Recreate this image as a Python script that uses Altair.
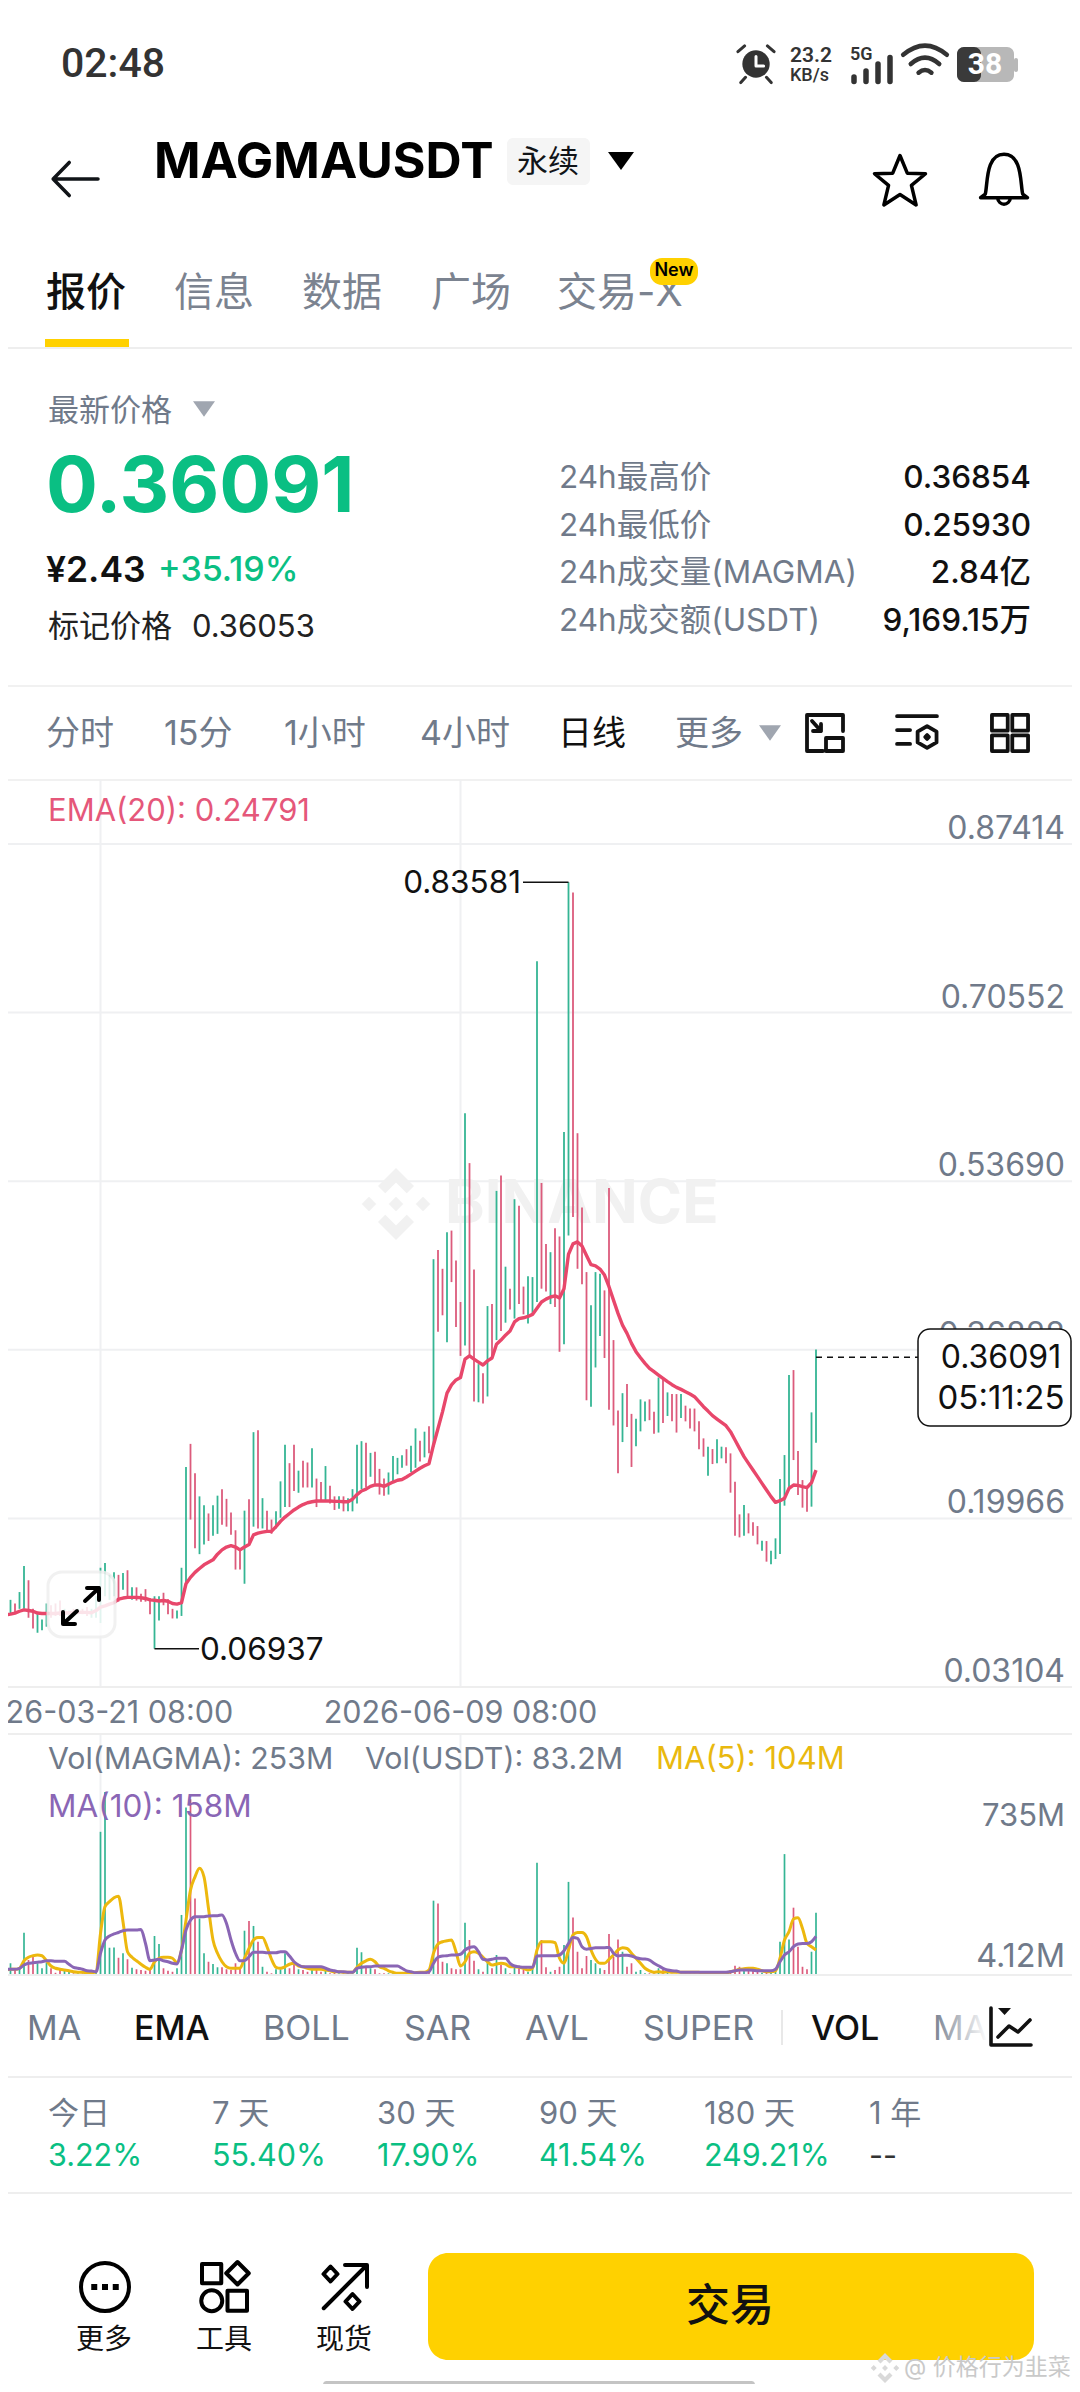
import altair as alt
import pandas as pd

# ---------- data ----------
highs = [
 .1057,.1092,.1182,.1146,.1260,.1521,.1378,.1092,.1039,.0985,
 .1146,.1128,.1146,.1175,.1092,.1075,.1092,.1092,.1092,.1110,
 .1092,.1218,.1503,.1550,.1432,.1457,.1432,.1450,.1478,.1307,
 .1307,.1242,.1289,.1200,.1218,.1218,.1253,.1189,.1092,.1075,
 .1503,.2510,.2742,.2449,.2217,.2128,.2046,.2128,.2224,.2289,
 .2192,.2056,.1878,.1682,.2074,.2189,.2859,.2877,.2199,.2074,
 .1985,.2067,.2367,.2734,.2549,.2734,.2474,.2574,.2556,.2699,
 .2395,.2360,.2520,.2324,.2217,.2217,.2217,.2199,.2289,.2734,
 .2769,.2752,.2652,.2663,.2492,.2395,.2456,.2620,.2602,.2627,
 .2689,.2723,.2897,.2772,.2864,.2918,.4589,.4680,.4493,.4858,
 .4875,.4576,.4161,.6048,.5550,.4485,.3539,.3448,.4120,.4141,
 .5272,.5426,.4514,.4294,.5189,.5123,.4315,.4418,.4410,.7569,
 .5351,.4742,.4659,.4899,.4816,.5861,.83581,.8257,.5849,.5107,
 .4460,.4128,.4460,.4443,.4277,.5301,.3780,.3075,.3249,.3340,
 .3042,.2992,.3187,.3166,.3187,.3062,.3406,.3394,.3257,.3240,
 .3240,.3240,.3124,.3095,.3095,.2967,.2797,.2714,.2690,.2787,
 .2714,.2707,.2647,.2364,.2037,.2130,.2047,.1957,.1920,.1774,
 .1770,.1674,.1797,.2390,.2630,.3430,.3480,.2670,.2380,.2314,
 .3057,.3687]
lows = [
 .0950,.0943,.1039,.1057,.1092,.1092,.1003,.0896,.0853,.0878,
 .0914,.1003,.1021,.1021,.1003,.0968,.1039,.1039,.1039,.1021,
 .1003,.1003,.0950,.1218,.1182,.1218,.1164,.1282,.1200,.1182,
 .1175,.1164,.1164,.1039,.06937,.0975,.1128,.1039,.0996,.0996,
 .1021,.1343,.1985,.1699,.1639,.1735,.1771,.1824,.1842,.1932,
 .1914,.1832,.1485,.1485,.1343,.1753,.1914,.1896,.1896,.1878,
 .1842,.1896,.2003,.2110,.2110,.2271,.2253,.2306,.2306,.2306,
 .2110,.2163,.2181,.2146,.2081,.2092,.2067,.2067,.2067,.2146,
 .2289,.2306,.2413,.2342,.2235,.2224,.2235,.2360,.2438,.2503,
 .2524,.2461,.2503,.2565,.2607,.2648,.2710,.3863,.4028,.3759,
 .4360,.3912,.3622,.3726,.3622,.3166,.3158,.3145,.3216,.3601,
 .3780,.3871,.3954,.4087,.3995,.4140,.4037,.3946,.4037,.4161,
 .4294,.4265,.4140,.4111,.3663,.3738,.4825,.5011,.4493,.4339,
 .3178,.3112,.3506,.3821,.3601,.3083,.2926,.2449,.2760,.2910,
 .2511,.2718,.2867,.2967,.2979,.2843,.2855,.2950,.3021,.2967,
 .2855,.3000,.2967,.2896,.2867,.2689,.2614,.2424,.2540,.2547,
 .2597,.2547,.2254,.1824,.1807,.1824,.1847,.1824,.1737,.1674,
 .1564,.1537,.1590,.1640,.2124,.2297,.2580,.2230,.2104,.2064,
 .2114,.2754]
direction = list(
 "RGGRGGRRGG" "GRRRGGRGRR" "GGGGGGRGRG" "RRRRGGRRRG" "GGRRGGRGGR"
 "RRRRGRGRGR" "RGGGRRGRRG" "RRGRRGRGGG" "GRGRRRGGGG" "RGGRGRGRRG"
 "RRRGRRGRGR" "GRGRGRRGGG" "RRGRRGGRRR" "RGGGRRRRGR" "RGGGRRGRGR"
 "RGRRRRRGRG" "GRRRRGRRRG" "RGGGGGRRRR" "GG")
ema20 = [
 .1032,.1032,.1039,.1050,.1068,.1082,.1075,.1068,.1050,.1046,
 .1046,.1046,.1046,.1050,.1053,.1050,.1057,.1060,.1057,.1057,
 .1053,.1075,.1110,.1121,.1139,.1153,.1189,.1200,.1207,.1207,
 .1207,.1203,.1196,.1182,.1178,.1171,.1175,.1168,.1146,.1139,
 .1153,.1343,.1407,.1457,.1496,.1532,.1557,.1582,.1639,.1682,
 .1710,.1724,.1710,.1682,.1710,.1735,.1832,.1849,.1860,.1867,
 .1867,.1914,.1967,.2010,.2046,.2081,.2110,.2135,.2153,.2163,
 .2171,.2171,.2171,.2171,.2167,.2167,.2163,.2163,.2189,.2235,
 .2271,.2289,.2317,.2331,.2331,.2317,.2338,.2360,.2378,.2386,
 .2411,.2440,.2469,.2498,.2523,.2544,.2731,.2896,.3062,.3249,
 .3332,.3382,.3406,.3589,.3622,.3589,.3560,.3531,.3572,.3601,
 .3738,.3780,.3829,.3871,.3962,.3995,.4003,.4016,.4037,.4099,
 .4161,.4190,.4211,.4223,.4202,.4294,.4638,.4742,.4762,.4721,
 .4625,.4534,.4522,.4490,.4430,.4314,.4180,.4047,.3930,.3847,
 .3747,.3664,.3604,.3547,.3497,.3464,.3430,.3397,.3364,.3334,
 .3307,.3287,.3264,.3240,.3214,.3164,.3114,.3070,.3024,.2990,
 .2957,.2924,.2864,.2780,.2697,.2614,.2547,.2480,.2414,.2347,
 .2280,.2214,.2157,.2174,.2197,.2297,.2330,.2327,.2314,.2304,
 .2354,.2479]
volume_m = [
 17,21,51,24,31,173,64,77,51,31,
 53,31,13,27,27,21,11,11,11,13,
 11,17,576,735,113,114,73,91,67,33,
 27,24,21,24,160,128,31,21,17,31,
 244,673,706,310,230,91,57,48,35,35,
 27,24,51,31,181,220,200,137,37,17,
 11,27,27,91,31,51,27,24,17,27,
 24,17,27,11,13,11,11,13,17,113,
 95,35,31,27,11,11,11,11,11,11,
 11,13,13,15,15,17,301,290,57,51,
 31,27,27,213,144,61,27,17,55,31,
 84,44,31,11,37,31,27,17,37,452,
 144,35,17,24,37,124,376,234,97,31,
 80,64,51,31,24,168,77,146,97,37,
 51,17,24,11,11,11,31,27,13,9,
 9,9,9,9,9,9,9,9,9,9,
 9,9,24,41,37,31,24,21,17,13,
 17,17,24,137,487,146,273,117,37,27,
 97,253]
ma5_m = [
 24,24,27,27,31,61,75,81,84,81,
 61,40,31,27,24,21,17,15,15,13,
 13,17,170,277,297,313,319,217,97,75,
 61,47,35,27,57,71,75,75,71,53,
 104,223,343,396,430,396,270,144,91,57,
 37,31,31,31,71,110,144,154,154,117,
 67,35,31,37,47,51,40,37,31,27,
 27,27,24,21,17,17,15,15,15,35,
 51,61,67,57,37,31,21,15,11,11,
 11,11,13,15,15,24,91,128,137,141,
 144,97,40,57,91,97,91,75,57,44,
 48,51,48,37,37,35,31,24,31,104,
 137,137,137,133,71,51,104,164,174,174,
 157,104,67,51,51,67,84,104,113,110,
 91,71,51,31,21,15,17,15,17,15,
 15,15,15,15,15,15,11,11,11,11,
 11,11,17,21,27,29,31,31,27,21,
 17,17,21,71,144,177,228,233,190,130,
 117,104]
ma10_m = [
 27,27,27,27,31,44,51,53,55,57,
 61,61,59,59,59,47,35,31,27,21,
 20,17,91,144,160,168,174,181,184,184,
 184,186,130,61,64,67,61,57,51,48,
 104,184,223,237,237,237,240,241,241,244,
 210,144,91,61,61,77,95,95,95,93,
 93,93,97,97,80,57,44,37,37,37,
 37,37,31,24,21,17,17,15,15,31,
 35,37,37,40,40,40,40,40,40,31,
 21,17,13,13,13,17,51,75,80,81,
 84,84,87,104,114,117,97,67,64,67,
 71,71,71,51,40,37,35,35,35,80,
 81,81,81,81,84,101,130,154,150,117,
 107,110,113,113,113,114,91,80,83,83,
 80,73,69,68,64,51,41,31,24,21,
 20,15,15,15,15,15,15,15,15,15,
 15,15,17,21,24,24,24,23,21,21,
 21,21,27,57,84,97,117,128,130,130,
 137,158]
price_ticks = [0.87414, 0.70552, 0.53690, 0.36828, 0.19966, 0.03104]
price_tick_labels = ["0.87414", "0.70552", "0.53690", "0.36828", "0.19966", "0.03104"]
date_ticks = [22, 102]
date_labels = ["2026-03-21 08:00", "2026-06-09 08:00"]
last_price = 0.36091
peak_index, peak_price = 126, 0.83581
trough_index, trough_price = 34, 0.06937
vol_floor, vol_top = 4.12, 735

# ---------- layout ----------
W, H = 1064, 2376
OFF = 8
TEXT_SHIFT = 3
SANS = "Inter, 'Noto Sans CJK SC', sans-serif"
GRAY, BLACK = "#707A8A", "#111418"
GREEN, RED = "#35B594", "#DC5B7C"
BIG_GREEN = "#0ABF83"
EMA_C, MA5_C, MA10_C = "#E8476B", "#EDB80E", "#8A66B5"
LINE = "#EFF0F2"
YELLOW = "#FFD100"

x_scale = alt.Scale(domain=[0, 181], range=[1.5 - OFF, 816 - OFF], nice=False, zero=False)
p_scale = alt.Scale(domain=[0.03104, 0.87414], range=[1687 - OFF, 844 - OFF], nice=False, zero=False)
v_scale = alt.Scale(domain=[vol_floor, vol_top], range=[1975 - OFF, 1792 - OFF], nice=False, zero=False)
X = alt.X("n:Q", scale=x_scale, axis=None)
P = alt.Y("p:Q", scale=p_scale, axis=None)

n = list(range(len(highs)))
df = pd.DataFrame({"n": n, "high": highs, "low": lows, "dir": direction, "ema": ema20,
                   "vol": volume_m, "ma5": ma5_m, "ma10": ma10_m, "base": [vol_floor] * len(n)})
ONE = alt.Data(values=[{"k": 0}])
layers = []


def box(x0, y0, x1, y1, fill="#FFFFFF", stroke=None, radius=0, sw=1.5, opacity=1.0):
    kw = dict(fill=fill, opacity=opacity, cornerRadius=radius)
    if stroke:
        kw.update(stroke=stroke, strokeWidth=sw)
    layers.append(alt.Chart(ONE).mark_rect(**kw).encode(
        x=alt.value(x0 - OFF), x2=alt.value(x1 - OFF), y=alt.value(y0 - OFF), y2=alt.value(y1 - OFF)))


def hline(y, x0=0, x1=1080, color=LINE, sw=2):
    layers.append(alt.Chart(ONE).mark_rule(color=color, strokeWidth=sw).encode(
        x=alt.value(x0 - OFF), x2=alt.value(x1 - OFF), y=alt.value(y - OFF)))


def label(s, x, y, size=31, color=GRAY, align="left", weight=400, font=SANS):
    layers.append(alt.Chart(ONE).mark_text(text=s, fontSize=size, color=color, align=align, baseline="middle",
                                           fontWeight=weight, font=font).encode(
        x=alt.value(x - OFF), y=alt.value(y - OFF + TEXT_SHIFT)))


def icon(path, x, y, half, color=BLACK, sw=3.0, filled=False, opacity=1.0):
    kw = dict(shape=path, size=(2 * half) ** 2, opacity=opacity, filled=filled)
    if filled:
        kw.update(fill=color, strokeWidth=0)
    else:
        kw.update(stroke=color, strokeWidth=sw, fill="transparent", strokeCap="round", strokeJoin="round")
    layers.append(alt.Chart(ONE).mark_point(**kw).encode(x=alt.value(x - OFF), y=alt.value(y - OFF)))


# ---------- status bar ----------
label("02:48", 61, 62, 41, "#333333", weight=500, font="Roboto")
icon("M0,-0.72 A0.72,0.72 0 1,1 0,0.72 A0.72,0.72 0 1,1 0,-0.72 Z", 756, 64, 19, "#333333", filled=True)
icon("M-0.95,-0.65 L-0.6,-0.95 M0.95,-0.65 L0.6,-0.95 M-0.55,0.7 L-0.8,0.98 M0.55,0.7 L0.8,0.98", 756, 64, 19, "#333333", 3)
icon("M0,-0.4 L0,0.1 L0.4,0.1", 756, 64, 19, "#FFFFFF", 3)
label("23.2", 790, 53, 21, "#333333", weight=600, font="Roboto")
label("KB/s", 790, 73, 18, "#333333", weight=500, font="Roboto")
label("5G", 850, 52, 18, "#333333", weight=600, font="Roboto")
icon("M-0.9,0.78 L-0.9,0.55 M-0.3,0.78 L-0.3,0.25 M0.3,0.78 L0.3,-0.1 M0.9,0.78 L0.9,-0.42", 872, 66, 20, "#333333", 5.5)
icon("M-0.95,-0.4 Q0,-1.2 0.95,-0.4 M-0.62,0 Q0,-0.55 0.62,0 M-0.28,0.38 Q0,0.14 0.28,0.38", 925, 64, 23, "#333333", 4.5)
box(957, 47, 1014, 82, "#B8B8B8", radius=7)
box(957, 47, 981, 82, "#3A3A3A", radius=7)
box(1014, 58, 1018, 72, "#B8B8B8", radius=2)
label("38", 985, 62, 30, "#FFFFFF", "center", 700, "Roboto")

# ---------- header ----------
icon("M1,0 L-0.95,0 M-0.25,-0.72 L-0.95,0 L-0.25,0.72", 75, 179, 23, BLACK, 3.5)
label("MAGMAUSDT", 154, 160, 50, "#000000", weight=700)
box(507, 138, 590, 185, "#F5F5F5", radius=6)
label("永续", 548, 160, 31, BLACK, "center")
icon("M-1,-0.7 L1,-0.7 L0,0.7 Z", 621, 161, 13, "#000000", filled=True)
icon("M0,-0.98 L0.28,-0.3 L0.98,-0.28 L0.44,0.17 L0.62,0.92 L0,0.52 L-0.62,0.92 L-0.44,0.17 L-0.98,-0.28 L-0.28,-0.3 Z", 900, 181, 26, "#000000", 3.5)
icon("M-0.72,0.58 C-0.62,0.2 -0.72,-0.95 0,-0.95 C0.72,-0.95 0.62,0.2 0.72,0.58 L0.9,0.72 L-0.9,0.72 Z M-0.25,0.72 C-0.2,1.05 0.2,1.05 0.25,0.72",
     1004, 179, 26, "#000000", 3.5)

# ---------- tabs ----------
label("报价", 46, 291, 40, "#111111", weight=500)
for s, x in [("信息", 174), ("数据", 302), ("广场", 431), ("交易-X", 557)]:
    label(s, x, 291, 40, "#7B8390")
box(650, 258, 698, 285, "#FFD100", radius=12)
label("New", 674, 268, 18, "#000000", "center", 600)
hline(348, color="#EEEEEE", sw=2)
box(45, 339, 129, 347, YELLOW)

# ---------- price summary ----------
label("最新价格", 48, 409, 31, GRAY)
icon("M-1,-0.7 L1,-0.7 L0,0.7 Z", 204, 409, 11, "#A0A6B0", filled=True)
label("0.36091", 46, 486, 77, BIG_GREEN, weight=700)
label("¥2.43", 46, 568, 35.5, "#111111", weight=600)
label("+35.19%", 158, 568, 34, BIG_GREEN, weight=500)
label("标记价格", 48, 625, 31, "#222222")
label("0.36053", 192, 625, 31, "#222222")
stats_left = ["24h最高价", "24h最低价", "24h成交量(MAGMA)", "24h成交额(USDT)"]
stats_right = ["0.36854", "0.25930", "2.84亿", "9,169.15万"]
for s, v, y in zip(stats_left, stats_right, [476, 524, 571, 619]):
    label(s, 559, y, 31.5, GRAY)
    label(v, 1031, y, 31.5, "#111111", "right", 500)
hline(686, color="#F1F1F1", sw=2)

# ---------- interval row ----------
for s, x, c in [("分时", 46, GRAY), ("15分", 164, GRAY), ("1小时", 284, GRAY), ("4小时", 420, GRAY),
                ("日线", 558, "#111111"), ("更多", 675, GRAY)]:
    label(s, x, 732, 34, c)
icon("M-1,-0.7 L1,-0.7 L0,0.7 Z", 770, 733, 11, "#A0A6B0", filled=True)
icon("M-0.1,0.9 L-0.9,0.9 L-0.9,-0.9 L0.9,-0.9 L0.9,-0.1 M0.05,0.25 L0.9,0.25 L0.9,0.9 L0.05,0.9 Z M-0.65,-0.6 L-0.2,-0.1 M-0.2,-0.45 L-0.2,-0.1 L-0.6,-0.1", 825, 733, 20, "#111111", 3.8)
icon("M-0.95,-0.8 L0.95,-0.8 M-0.95,-0.14 L-0.33,-0.14 M-0.95,0.52 L-0.33,0.52 M0.48,-0.33 L0.93,-0.07 L0.93,0.45 L0.48,0.71 L0.03,0.45 L0.03,-0.07 Z M0.48,0.1 L0.57,0.19 L0.48,0.28 L0.39,0.19 Z", 917, 733, 21, "#111111", 3.8)
icon("M-0.95,-0.95 L-0.12,-0.95 L-0.12,-0.12 L-0.95,-0.12 Z M0.12,-0.95 L0.95,-0.95 L0.95,-0.12 L0.12,-0.12 Z M-0.95,0.12 L-0.12,0.12 L-0.12,0.95 L-0.95,0.95 Z M0.12,0.12 L0.95,0.12 L0.95,0.95 L0.12,0.95 Z", 1010, 733, 19, "#111111", 3.8)
hline(780, color="#F1F1F1", sw=2)

# ---------- price panel grid ----------
layers.append(alt.Chart(pd.DataFrame({"p": price_ticks})).mark_rule(color=LINE, strokeWidth=2).encode(y=P))
layers.append(alt.Chart(pd.DataFrame({"n": date_ticks})).mark_rule(color=LINE, strokeWidth=2).encode(
    x=X, y=alt.value(780 - OFF), y2=alt.value(1687 - OFF)))
layers.append(alt.Chart(pd.DataFrame({"n": date_ticks})).mark_rule(color=LINE, strokeWidth=2).encode(
    x=X, y=alt.value(1734 - OFF), y2=alt.value(1975 - OFF)))

# watermark
icon("M0,-1 L0.5,-0.5 L0.3,-0.3 L0,-0.6 L-0.3,-0.3 L-0.5,-0.5 Z M0,1 L0.5,0.5 L0.3,0.3 L0,0.6 L-0.3,0.3 L-0.5,0.5 Z "
     "M0,-0.2 L0.2,0 L0,0.2 L-0.2,0 Z M-0.75,-0.2 L-0.55,0 L-0.75,0.2 L-0.95,0 Z M0.75,-0.2 L0.95,0 L0.75,0.2 L0.55,0 Z",
     396, 1204, 36, "#F1F1F1", filled=True)
label("BINANCE", 445, 1202, 60, "#F1F1F1", weight=700)

# ---------- candles ----------
colour = alt.Color("dir:N", scale=alt.Scale(domain=["G", "R"], range=[GREEN, RED]), legend=None)
layers.append(alt.Chart(df).mark_rule(strokeWidth=1.8).encode(
    x=X, y=alt.Y("high:Q", scale=p_scale, axis=None), y2="low:Q", color=colour))
layers.append(alt.Chart(df).mark_line(color=EMA_C, strokeWidth=3.4, strokeJoin="round").encode(
    x=X, y=alt.Y("ema:Q", scale=p_scale, axis=None)))

# high / low flags
for idx, val, end, tx, ta, txt in [(peak_index, peak_price, 523, 521, "right", "0.83581"),
                                   (trough_index, trough_price, 199, 200, "left", "0.06937")]:
    row = pd.DataFrame({"n": [idx], "p": [val]})
    layers.append(alt.Chart(row).mark_rule(color="#111111", strokeWidth=1.5).encode(
        x=X, x2=alt.value(end - OFF), y=P))
    layers.append(alt.Chart(row).mark_text(text=txt, fontSize=31.5, color="#111111", align=ta, baseline="middle",
                                           font=SANS, dy=2).encode(x=alt.value(tx - OFF), y=P))

# expand button
box(48, 1572, 115, 1637, "#FFFFFF", "#EFEFEF", 14, 3, 0.85)
icon("M-0.9,0.9 L-0.2,0.25 M-0.9,0.3 L-0.9,0.9 L-0.3,0.9 M0.9,-0.9 L0.2,-0.25 M0.3,-0.9 L0.9,-0.9 L0.9,-0.3", 81, 1606, 20, "#000000", 4)

# price axis labels
for t, s in zip(price_ticks, price_tick_labels):
    layers.append(alt.Chart(pd.DataFrame({"p": [t]})).mark_text(
        text=s, fontSize=32, color=GRAY, align="right", baseline="middle", font=SANS, dy=-15).encode(
        x=alt.value(1065 - OFF), y=P))

# last price
row = pd.DataFrame({"n": [181], "p": [last_price]})
layers.append(alt.Chart(row).mark_rule(color="#111111", strokeWidth=1.5, strokeDash=[6, 5]).encode(
    x=X, x2=alt.value(918 - OFF), y=P))
box(918, 1329, 1071, 1426, "#FFFFFF", "#111111", 12, 1.5)
label("0.36091", 1001, 1355, 32, "#111111", "center")
label("05:11:25", 1001, 1396, 33, "#111111", "center")

hline(1687, color="#EEEEEE", sw=2)
for t, s in zip(date_ticks, date_labels):
    layers.append(alt.Chart(pd.DataFrame({"n": [t]})).mark_text(
        text=s, fontSize=30.5, color=GRAY, align="center", baseline="middle", font=SANS, dy=2).encode(
        x=X, y=alt.value(1712 - OFF)))
hline(1734, color="#EEEEEE", sw=2)

label("EMA(20): 0.24791", 48, 809, 31, "#E5577A")

# ---------- volume panel ----------
V = alt.Y("vol:Q", scale=v_scale, axis=None)
layers.append(alt.Chart(df).mark_rule(strokeWidth=1.7).encode(x=X, y=V, y2="base:Q", color=colour))
layers.append(alt.Chart(df).mark_line(color=MA5_C, strokeWidth=3, interpolate="monotone").encode(
    x=X, y=alt.Y("ma5:Q", scale=v_scale, axis=None)))
layers.append(alt.Chart(df).mark_line(color=MA10_C, strokeWidth=3, interpolate="monotone").encode(
    x=X, y=alt.Y("ma10:Q", scale=v_scale, axis=None)))
label("Vol(MAGMA): 253M", 48, 1757, 30.3, GRAY)
label("Vol(USDT): 83.2M", 365, 1757, 30.3, GRAY)
label("MA(5): 104M", 656, 1757, 31, "#E9B90F")
label("MA(10): 158M", 48, 1805, 31.5, "#8A66B5")
label("735M", 1065, 1814, 31, GRAY, "right")
label("4.12M", 1065, 1954, 32.5, GRAY, "right")
hline(1975, color="#EEEEEE", sw=2)

# ---------- indicator row ----------
for s, x, c, w in [("MA", 27, GRAY, 400), ("EMA", 134, "#111111", 500), ("BOLL", 263, GRAY, 400), ("SAR", 404, GRAY, 400),
                   ("AVL", 525, GRAY, 400), ("SUPER", 643, GRAY, 400), ("VOL", 811, "#111111", 500), ("MA", 933, GRAY, 400)]:
    label(s, x, 2027, 34, c, weight=w)
layers.append(alt.Chart(ONE).mark_rect(fill=alt.LinearGradient(
    gradient="linear", x1=0, x2=1, y1=0, y2=0,
    stops=[alt.GradientStop(offset=0, color="rgba(255,255,255,0)"), alt.GradientStop(offset=1, color="#FFFFFF")])).encode(
    x=alt.value(930 - OFF), x2=alt.value(988 - OFF), y=alt.value(2005 - OFF), y2=alt.value(2050 - OFF)))
layers.append(alt.Chart(ONE).mark_rule(color="#E8E8E8", strokeWidth=2).encode(
    x=alt.value(782 - OFF), y=alt.value(2010 - OFF), y2=alt.value(2045 - OFF)))
icon("M-1,-0.95 L-1,0.9 L1,0.9 M-0.65,0.5 L-0.1,-0.05 L0.35,0.25 L0.95,-0.35", 1011, 2027, 20, "#111111", 3.6)
icon("M-0.65,-0.95 L0,-0.95 L-0.32,-0.6 Z", 1011, 2027, 20, "#111111", filled=True)
hline(2077, color="#EEEEEE", sw=2)

# ---------- period returns ----------
periods = ["今日", "7 天", "30 天", "90 天", "180 天", "1 年"]
returns = ["3.22%", "55.40%", "17.90%", "41.54%", "249.21%", "--"]
for p_, r_, x in zip(periods, returns, [48, 212, 377, 539, 704, 869]):
    label(p_, x, 2112, 31, GRAY)
    label(r_, x, 2154, 30.5, BIG_GREEN if r_ != "--" else "#333333")
hline(2193, color="#EEEEEE", sw=2)

# ---------- bottom bar ----------
icon("M-0.96,0 A0.96,0.96 0 1,1 0.96,0 A0.96,0.96 0 1,1 -0.96,0 Z", 105, 2287, 25, "#000000", 4)
icon("M-0.55,-0.12 L-0.31,-0.12 L-0.31,0.12 L-0.55,0.12 Z M-0.12,-0.12 L0.12,-0.12 L0.12,0.12 L-0.12,0.12 Z M0.31,-0.12 L0.55,-0.12 L0.55,0.12 L0.31,0.12 Z",
     105, 2287, 25, "#000000", filled=True)
icon("M-0.92,-0.92 L-0.15,-0.92 L-0.15,-0.15 L-0.92,-0.15 Z M0.5,-1 L0.95,-0.55 L0.5,-0.1 L0.05,-0.55 Z "
     "M-0.95,0.55 A0.42,0.42 0 1,1 -0.11,0.55 A0.42,0.42 0 1,1 -0.95,0.55 Z M0.1,0.15 L0.88,0.15 L0.88,0.95 L0.1,0.95 Z",
     225, 2287, 25, "#000000", 4)
icon("M-0.85,0.85 L0.85,-0.85 M0,-0.88 L0.88,-0.88 L0.88,0 M-0.58,-0.82 L-0.3,-0.52 L-0.58,-0.22 L-0.86,-0.52 Z M0.3,0.28 L0.58,0.58 L0.3,0.88 L0.02,0.58 Z",
     345, 2287, 25, "#000000", 4)
for s, x in [("更多", 104), ("工具", 224), ("现货", 344)]:
    label(s, x, 2338, 28, "#111111", "center")
box(428, 2253, 1034, 2360, YELLOW, radius=20)
label("交易", 730, 2305, 44, "#111111", "center", 500)
box(323, 2381, 755, 2388, "#C4C4C4", radius=4)
icon("M0,-1 L0.5,-0.5 L0.3,-0.3 L0,-0.6 L-0.3,-0.3 L-0.5,-0.5 Z M0,1 L0.5,0.5 L0.3,0.3 L0,0.6 L-0.3,0.3 L-0.5,0.5 Z M0,-0.2 L0.2,0 L0,0.2 L-0.2,0 Z M-0.75,-0.2 L-0.55,0 L-0.75,0.2 L-0.95,0 Z M0.75,-0.2 L0.95,0 L0.75,0.2 L0.55,0 Z",
     885, 2368, 15, "#D9D9D9", filled=True)
label("@ 价格行为韭菜", 904, 2365, 23, "#C9C9C9")

chart = alt.layer(*layers).resolve_scale(x="independent", y="independent", color="independent").properties(
    width=W, height=H, padding=0, autosize=alt.AutoSizeParams(type="none"), background="#FFFFFF"
).configure_view(stroke=None)
chart.save("out.html", embed_options={"renderer": "svg", "actions": False})
